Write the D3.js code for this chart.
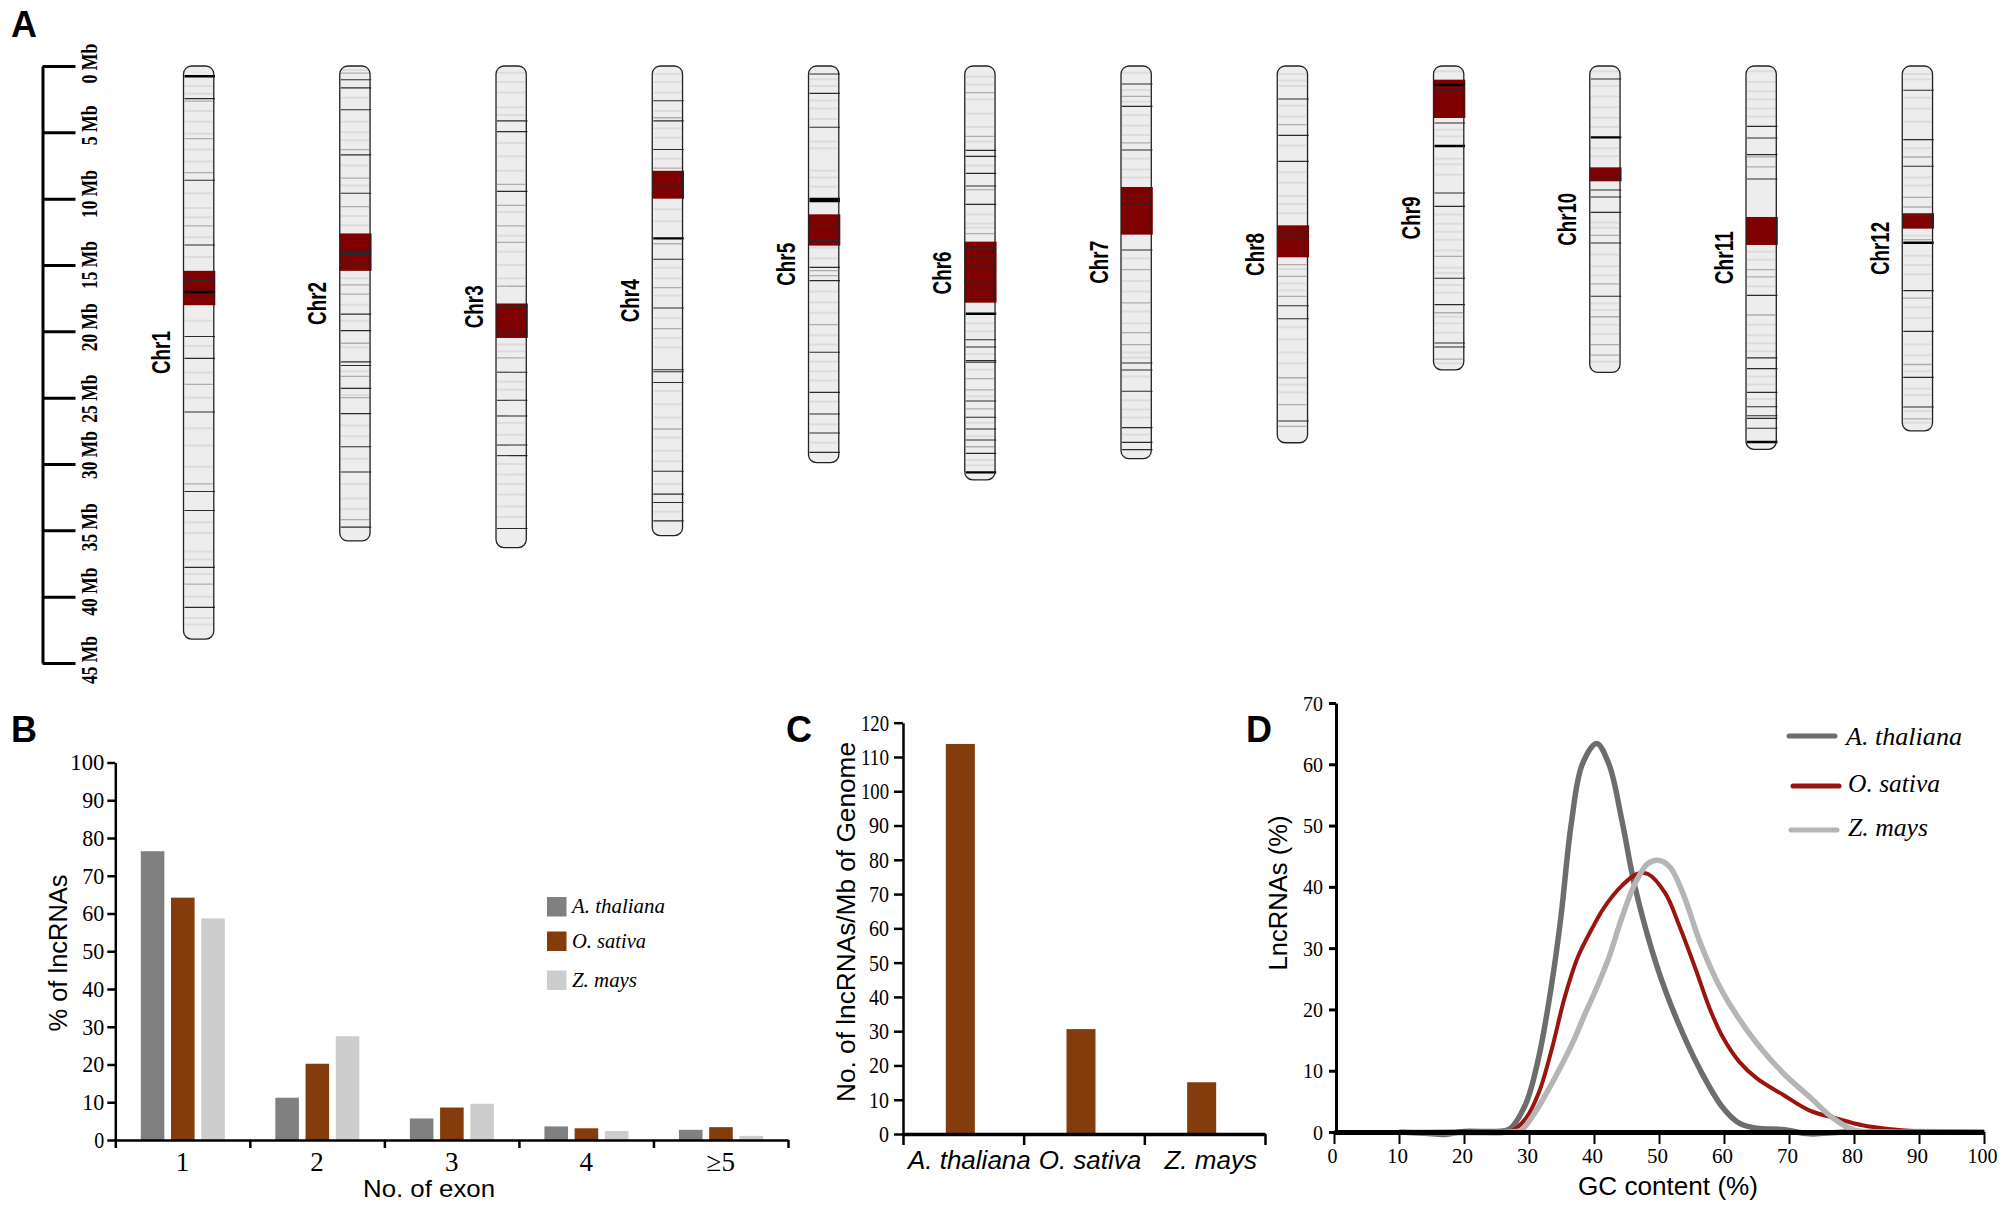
<!DOCTYPE html>
<html>
<head>
<meta charset="utf-8">
<script src="https://cdn.jsdelivr.net/npm/d3@7"></script>
<style>
  body { margin: 0; background: #fff; }
  text { fill: #000; }
</style>
</head>
<body>
<div class="container"></div>
<script>
// panel A - positions in Mb
var chrNames = ['Chr1','Chr2','Chr3','Chr4','Chr5','Chr6','Chr7','Chr8','Chr9','Chr10','Chr11','Chr12'];
var chrLengths = [43.2,35.8,36.3,35.4,29.9,31.2,29.6,28.4,22.9,23.1,28.9,27.5];
var centroStart = [15.44,12.62,17.9,7.9,11.18,13.24,9.12,12.01,1.03,7.64,11.38,11.1];
var centroEnd = [18.03,15.44,20.5,10.0,13.54,17.84,12.71,14.42,3.92,8.69,13.49,12.26];
var chrThick = [
  [0.77,17.03],[],[],[12.99],[10.1],[18.67,30.63],[],[],[1.41,6.03],[5.38],[28.34],[13.32]
];
var chrDark = [
  [2.46,8.61,13.49,16.18,20.39,22.04,26.08,32.07,33.51,37.79,40.81],
  [1.04,1.65,3.3,6.7,9.59,14.06,14.2,15,18.7,19.95,22.3,22.58,24.3,26.2,28.7,30.6,34.76],
  [4.14,4.95,9.45,18.14,20.05,23.08,25.2,26.38,28.57,29.37,34.86],
  [2.62,4.14,6.29,9.12,14.57,18.24,22.9,23.05,23.86,30.55,32.27,32.9,34.29],
  [0.6,2.06,4.62,12.01,13.14,15.18,16.18,21.58,24.6,26.23,27.66,29.12],
  [6.36,6.81,8.09,9.05,10.43,13.74,14.32,15.15,16.28,16.98,17.46,20.63,21.18,22.2,22.32,25.25,26.48,27.36,28.19,29.2],
  [1.36,3.04,6.33,9.77,10.48,13.87,22.39,22.91,24.52,27.26,28.37,28.92],
  [2.49,5.23,7.19,12.51,12.96,18.07,19.05,26.76],
  [1.61,1.83,4.3,9.57,10.58,16,17.99,20.88,21.18],
  [0.98,8.52,9.35,9.87,11.03,13.34,17.36],
  [4.55,5.43,6.68,8.52,17.29,22,22.81,24.6,25.68,26.36,26.56,27.31],
  [1.83,5.55,7.56,11.26,16.93,20,23.47,25.7]
];
var chrGray = [
  [2.65,5.48,8.04,12.05,24,31.5,39.06],
  [0.54,6.3,8.45,10.6,16.5,17.2,20.9,23.4,25,34.2],
  [8.92,10.5,12.05,13.3,16.6,22],
  [3.9,7.7,13.4,16.7,19.8,27.36],
  [15.43,15.8,19.5],
  [2,5.3,9.32,12.64,23.57,24.42,25.85,28.7],
  [2.29,5.8,15.35,17.86,20.1,21],
  [4.42,14.97,15.85,17.36,23.5,25.53,27.16],
  [14.35,18.6,22.1],
  [12.76,16.43,18.9,21,21.8],
  [6.85,7.61,15.35,15.9,18.77],
  [6.86,9.9,10.63,13.09,17.5,22.5,26.6]
];
var chrFaint = [
  [1.5,2.1,3.4,4.2,5.1,6.3,7.2,9.6,10.7,11.4,12.9,14.4,19.2,21.1,23.1,25,27.3,28.6,30.2,34.4,35.2,36.6,37.2,38.3,40,41.6,42.1],
  [0.3,2.4,4.2,5,5.6,7.5,9,11.3,12,13.2,16,18,19.2,21.2,23,24.8,27.1,27.9,29.6,31.5,32.6,33.4],
  [0.5,1.2,2,3.1,3.7,5.8,6.8,7.9,11,12.8,14,15,16,21,21.5,23.8,24.4,26.9,27.8,30,30.8,31.5,32.3,33.2,34],
  [0.6,1.2,2,3.4,4.7,5.4,7,10.8,11.7,15.2,16,17.3,19,20.5,21.2,24.5,25.5,26.5,28,29,29.8,31.5,33.6],
  [1,1.5,2.6,3.2,4,5.7,6.2,7.9,8.4,9.1,13.7,14.5,17,17.8,18.6,20.3,21,22.3,23,23.7,25.3,27,28.4],
  [0.8,1.4,2.5,3.6,4.6,5.7,7.5,11.2,11.9,12.2,19.4,20,21.7,22.9,24.9,26.9,27.9,29.7,30.1],
  [0.5,1.8,2.7,3.7,4.5,5.2,7,7.8,8.4,14.5,16.2,17,18.5,19.4,21.6,22,23.4,25.2,25.9,26.5,27.8],
  [0.6,1.1,1.5,3,3.8,6,8,8.8,9.8,10.4,11.1,15.3,16.4,16.9,19.7,20.6,21.6,22.4,24,24.6],
  [0.4,4.8,5.3,7,7.4,8.2,11.2,11.9,12.5,13.1,13.9,15.2,15.6,16.5,17.1,18.9,19.4,20.1,22.4],
  [0.4,1.5,2.3,3.1,3.9,4.6,6.2,6.8,11.8,12.2,14.2,15.1,15.8,17.9,18.4,19.5,20.2,22.3],
  [0.4,1.2,1.9,2.5,3.2,3.8,14,14.6,16.6,19.5,20.3,20.9,21.5,23.4,24,25.1],
  [0.6,1,2.4,3.2,4.2,6.2,8.4,9,12.8,14.3,15,15.7,18.2,19,21,21.8,23,24.3,24.8,26,26.9]
];
var mbTicks = [0,5,10,15,20,25,30,35,40,45];

// panel B
var exonCats = ['1','2','3','4','≥5'];
var speciesNames = ['A. thaliana','O. sativa','Z. mays'];
var athExon = [76.5,11.2,5.7,3.6,2.7];
var osaExon = [64.2,20.2,8.6,3.1,3.4];
var zmaExon = [58.7,27.5,9.6,2.4,1.1];

// panel C
var densityVals = [113.8,30.6,15.1];

// panel D - GC content, [gc, percent]
var athGc = [[10,0],[14,-0.2],[17,-0.4],[20,0.1],[25,0.1],[27,0.5],[29.5,4.6],[31.5,12.2],[33.5,24.2],[34.9,35],[36.5,50.3],[38.2,60],[40.4,63.4],[42.3,60],[44.3,50.8],[46.3,40],[49.7,27],[53,17.7],[56.4,10],[59.8,4],[62.4,1.4],[65.1,0.6],[69,0.4],[73.2,-0.3],[78.6,0],[100,0]];
var osaGc = [[10,0],[20,0.1],[27,0],[29.5,2.2],[31.5,6.4],[33.5,13.5],[35.5,22],[37.5,28.5],[39.6,33],[41.6,36.7],[44.3,40.2],[46.6,42.1],[48.3,42.1],[51,38.9],[53,34],[55.7,26.4],[57.7,20.4],[59.8,15.5],[62.4,11.4],[65.1,8.7],[69.2,6],[73.2,3.5],[77.3,2.2],[81.3,1.1],[85.3,0.5],[90,0.1],[100,0]];
var zmaGc = [[10,0],[27,0],[28.8,0.3],[30.8,3],[33.5,7.9],[36.9,15],[38.5,19],[40.2,23],[42.3,28.5],[44.3,35],[46.3,40.5],[48.3,43.8],[50,44.3],[51.7,43.2],[53.7,38.9],[56.4,30.7],[59.1,24.2],[61.8,19.3],[65.1,14.4],[69.2,9.5],[73.2,5.7],[76.6,2.4],[80,0.3],[85,0],[100,0]];

var WIDTH = 2007, HEIGHT = 1214;
var SANS = '"Liberation Sans", Arial, sans-serif';
var SERIF = '"Liberation Serif", "Times New Roman", serif';
var BAR_COLORS = ['#808080','#843c0c','#cdcdcd'];

var _svg;

var translate = function (x, y) {
  return 'translate(' + x + ',' + y + ')';
};

// squeeze or stretch a text to the width it has in the figure
var fit = function (sel, len) {
  return sel.attr('textLength', len).attr('lengthAdjust', 'spacingAndGlyphs');
};

var styleAxis = function (g, width) {
  g.selectAll('.domain').attr('stroke', '#000').attr('stroke-width', width);
  g.selectAll('.tick line').attr('stroke', '#000').attr('stroke-width', width);
};

// tick numbers, narrower than the font's own digits
var styleNumbers = function (g, size, w1, w2, w3) {
  g.selectAll('.tick text').style('font-family', SERIF).style('font-size', size + 'px')
    .each(function (d) {
      fit(d3.select(this), d >= 100 ? w3 : (d >= 10 ? w2 : w1));
    });
};

var panelLetter = function (txt, x, y) {
  _svg.append('text').attr('x', x).attr('y', y)
    .style('font-family', SANS).style('font-weight', 'bold').style('font-size', '36px')
    .text(txt);
};

var drawChromosomes = function () {
  var mb = d3.scaleLinear().domain([0, 45]).range([66, 663]);
  var chrX = d3.scalePoint().domain(chrNames).range([183.5, 183.5 + 156.25 * 11]);
  var CHR_W = 30.3;

  var axis = d3.axisRight(mb).tickValues(mbTicks).tickSize(33).tickSizeOuter(0).tickFormat('');
  var gAxis = _svg.append('g').attr('transform', translate(42.5, 0)).call(axis);
  styleAxis(gAxis, 3);

  // labels sit a few px off their ticks in the figure
  var labelNudge = [-2.5,-7,-4.7,0,-4,1,-9,-3,-5,-3];
  _svg.selectAll('.mbLabel').data(mbTicks).enter().append('text')
    .attr('class', 'mbLabel')
    .attr('transform', function (d, i) { return translate(97, mb(d) + labelNudge[i]) + ' rotate(-90)'; })
    .attr('text-anchor', 'middle')
    .style('font-family', SERIF).style('font-weight', 'bold').style('font-size', '23px')
    .text(function (d) { return d + ' Mb'; })
    .each(function (d) { fit(d3.select(this), d < 10 ? 40 : 48); });

  chrNames.forEach(function (name, i) {
    var g = _svg.append('g').attr('transform', translate(chrX(name), 0));
    var clipId = 'clip' + i;
    var top = mb(0), h = mb(chrLengths[i]) - mb(0);

    g.append('clipPath').attr('id', clipId).append('rect')
      .attr('x', -1).attr('y', top).attr('width', CHR_W + 3).attr('height', h);

    g.append('rect').attr('y', top).attr('width', CHR_W).attr('height', h)
      .attr('rx', 8).attr('fill', '#ededed');

    var addLines = function (parent, vals, color, sw, over) {
      parent.selectAll(null).data(vals).enter().append('line')
        .attr('x1', 1).attr('x2', CHR_W + over)
        .attr('y1', function (d) { return mb(d); })
        .attr('y2', function (d) { return mb(d); })
        .attr('stroke', color).attr('stroke-width', sw);
    };

    var under = g.append('g').attr('clip-path', 'url(#' + clipId + ')');
    addLines(under, chrFaint[i], '#dcdcdc', 2, -1);
    addLines(under, chrGray[i], '#adadad', 1.3, -1);

    g.append('rect').attr('y', mb(centroStart[i])).attr('width', CHR_W + 1.5)
      .attr('height', mb(centroEnd[i]) - mb(centroStart[i])).attr('fill', '#7f0000');

    // the dark lines also run over the red zone
    var over = g.append('g').attr('clip-path', 'url(#' + clipId + ')');
    addLines(over, chrDark[i], '#2b2b2b', 1.1, 1.2);
    addLines(over, chrThick[i], '#000', name === 'Chr5' ? 4.5 : 2.4, 1.2);

    g.append('rect').attr('y', top).attr('width', CHR_W).attr('height', h)
      .attr('rx', 8).attr('fill', 'none').attr('stroke', '#222').attr('stroke-width', 1.3);

    g.append('text')
      .attr('transform', translate(-13.5, top + h / 2) + ' rotate(-90)')
      .attr('text-anchor', 'middle')
      .style('font-family', SANS).style('font-weight', 'bold').style('font-size', '26px')
      .text(name)
      .call(fit, name.length > 4 ? 53 : 43);
  });
};

var drawExonBars = function () {
  var x = d3.scaleBand().domain(exonCats).range([115.3, 788]);
  var xTicks = d3.scaleLinear().domain([0, 5]).range([115.3, 788]);
  var xInner = d3.scaleBand().domain(speciesNames).range([25.5, 109.5]).paddingInner(0.22);
  var y = d3.scaleLinear().domain([0, 100]).range([1140, 762.5]);

  var series = [athExon, osaExon, zmaExon];
  speciesNames.forEach(function (sp, s) {
    _svg.selectAll(null).data(series[s]).enter().append('rect')
      .attr('x', function (d, i) { return x(exonCats[i]) + xInner(sp); })
      .attr('y', function (d) { return y(d); })
      .attr('width', xInner.bandwidth())
      .attr('height', function (d) { return y(0) - y(d); })
      .attr('fill', BAR_COLORS[s]);
  });

  var gy = _svg.append('g').attr('transform', translate(115.3, 0))
    .call(d3.axisLeft(y).tickValues(d3.range(0, 101, 10)).tickSize(8).tickSizeOuter(0).tickPadding(3));
  styleAxis(gy, 2.5);
  styleNumbers(gy, 23, 10, 22, 34);

  var gx = _svg.append('g').attr('transform', translate(0, 1140))
    .call(d3.axisBottom(xTicks).tickValues(d3.range(0, 6)).tickSize(8).tickSizeOuter(0).tickFormat(''));
  styleAxis(gx, 2.5);

  var gxl = _svg.append('g').attr('transform', translate(0, 1140))
    .call(d3.axisBottom(x).tickSize(0).tickPadding(12));
  gxl.select('.domain').remove();
  gxl.selectAll('text').style('font-family', SERIF).style('font-size', '27px');

  _svg.append('text').attr('x', 429).attr('y', 1197).attr('text-anchor', 'middle')
    .style('font-family', SANS).style('font-size', '24px').text('No. of exon').call(fit, 132);
  _svg.append('text').attr('transform', translate(67, 953) + ' rotate(-90)').attr('text-anchor', 'middle')
    .style('font-family', SANS).style('font-size', '26px').text('% of lncRNAs').call(fit, 157);

  var legendY = [907, 941.5, 980.5];
  var legendW = [93, 74, 65];
  speciesNames.forEach(function (sp, s) {
    _svg.append('rect').attr('x', 547).attr('y', legendY[s] - 10).attr('width', 19.5).attr('height', 19.5)
      .attr('fill', BAR_COLORS[s]);
    _svg.append('text').attr('x', 572).attr('y', legendY[s] + 6)
      .style('font-family', SERIF).style('font-style', 'italic').style('font-size', '21px')
      .text(sp).call(fit, legendW[s]);
  });
};

var drawDensityBars = function () {
  var x = d3.scaleBand().domain(speciesNames).range([903, 1265]);
  var y = d3.scaleLinear().domain([0, 120]).range([1134, 722.7]);
  var BAR_W = 29;

  _svg.selectAll(null).data(densityVals).enter().append('rect')
    .attr('x', function (d, i) { return x(speciesNames[i]) + (x.bandwidth() - BAR_W) / 2 - 3; })
    .attr('y', function (d) { return y(d); })
    .attr('width', BAR_W)
    .attr('height', function (d) { return y(0) - y(d); })
    .attr('fill', BAR_COLORS[1]);

  var gy = _svg.append('g').attr('transform', translate(903, 0))
    .call(d3.axisLeft(y).tickValues(d3.range(0, 121, 10)).tickSize(9).tickSizeOuter(0).tickPadding(5));
  styleAxis(gy, 2.5);
  styleNumbers(gy, 23, 10, 20, 28);

  var xTicks = d3.scaleLinear().domain([0, 3]).range([903, 1265]);
  var gx = _svg.append('g').attr('transform', translate(0, 1134))
    .call(d3.axisBottom(xTicks).tickValues(d3.range(0, 4)).tickSize(11).tickSizeOuter(0).tickFormat(''));
  styleAxis(gx, 2.5);
  gx.select('.domain').attr('stroke-width', 3.5);

  var gxl = _svg.append('g').attr('transform', translate(6, 1134))
    .call(d3.axisBottom(x).tickSize(0).tickPadding(17));
  gxl.select('.domain').remove();
  gxl.selectAll('text').style('font-family', SANS).style('font-style', 'italic').style('font-size', '26px');

  _svg.append('text').attr('transform', translate(855, 922) + ' rotate(-90)').attr('text-anchor', 'middle')
    .style('font-family', SANS).style('font-size', '26px').text('No. of lncRNAs/Mb of Genome').call(fit, 360);
};

var drawGcCurves = function () {
  var x = d3.scaleLinear().domain([0, 100]).range([1334, 1984]);
  var y = d3.scaleLinear().domain([0, 70]).range([1132, 703]);
  var line = d3.line()
    .x(function (d) { return x(d[0]); })
    .y(function (d) { return y(d[1]); })
    .curve(d3.curveCatmullRom.alpha(0.5));

  var curves = [
    { name: speciesNames[0], pts: athGc, color: '#6d6d6d', sw: 5.5 },
    { name: speciesNames[1], pts: osaGc, color: '#9b1510', sw: 4 },
    { name: speciesNames[2], pts: zmaGc, color: '#b5b5b5', sw: 5.5 }
  ];

  curves.forEach(function (c) {
    _svg.append('path').attr('d', line(c.pts)).attr('fill', 'none')
      .attr('stroke', c.color).attr('stroke-width', c.sw);
  });

  var gx = _svg.append('g').attr('transform', translate(0, 1132))
    .call(d3.axisBottom(x).tickValues(d3.range(0, 101, 10)).tickSize(12).tickSizeOuter(0).tickPadding(4));
  styleAxis(gx, 2);
  gx.select('.domain').attr('stroke-width', 5);
  styleNumbers(gx, 21, 10, 21, 30);
  gx.selectAll('.tick text').attr('dx', -2);

  var gy = _svg.append('g').attr('transform', translate(1336, 0))
    .call(d3.axisLeft(y).tickValues(d3.range(0, 71, 10)).tickSize(7).tickSizeOuter(0).tickPadding(6));
  styleAxis(gy, 3);
  styleNumbers(gy, 22, 10, 20, 30);

  _svg.append('text').attr('x', 1668).attr('y', 1195).attr('text-anchor', 'middle')
    .style('font-family', SANS).style('font-size', '25px').text('GC content (%)').call(fit, 180);
  _svg.append('text').attr('transform', translate(1287, 893) + ' rotate(-90)').attr('text-anchor', 'middle')
    .style('font-family', SANS).style('font-size', '26px').text('LncRNAs (%)').call(fit, 155);

  var legendY = [736, 786, 830];
  var legendX = [1789, 1793, 1791];
  var textX = [1846, 1848, 1848];
  var textY = [745, 792, 836];
  var textW = [116, 92, 80];
  curves.forEach(function (c, i) {
    _svg.append('line').attr('x1', legendX[i]).attr('x2', legendX[i] + 46)
      .attr('y1', legendY[i]).attr('y2', legendY[i])
      .attr('stroke', c.color).attr('stroke-width', 5).attr('stroke-linecap', 'round');
    _svg.append('text').attr('x', textX[i]).attr('y', textY[i])
      .style('font-family', SERIF).style('font-style', 'italic').style('font-size', '26px')
      .text(c.name).call(fit, textW[i]);
  });
};

var onload = function () {
  _svg = d3.select('.container').append('svg')
    .attr('width', WIDTH)
    .attr('height', HEIGHT)
    .style('display', 'block');

  panelLetter('A', 11, 37);
  panelLetter('B', 11, 742);
  panelLetter('C', 786, 742);
  panelLetter('D', 1246, 742);

  drawChromosomes();
  drawExonBars();
  drawDensityBars();
  drawGcCurves();
};

window.onload = onload;
</script>
</body>
</html>
